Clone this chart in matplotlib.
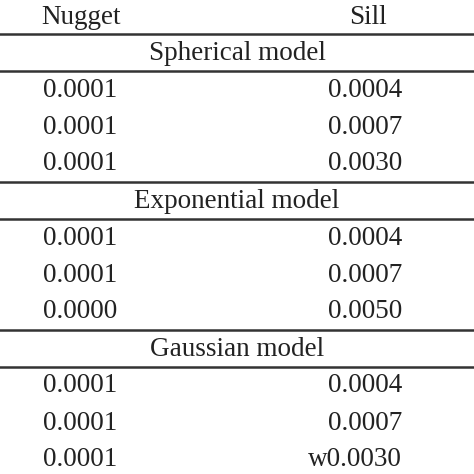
import matplotlib
matplotlib.use("Agg")
import matplotlib.pyplot as plt

headers = ["Nugget", "Sill"]
models = ["Spherical model", "Exponential model", "Gaussian model"]
nugget = [["0.0001", "0.0001", "0.0001"], ["0.0001", "0.0001", "0.0000"], ["0.0001", "0.0001", "0.0001"]]
sill = [["0.0004", "0.0007", "0.0030"], ["0.0004", "0.0007", "0.0050"], ["0.0004", "0.0007", "w0.0030"]]

fig = plt.figure(figsize=(4.74, 4.74), dpi=100)
ax = fig.add_axes([0, 0, 1, 1])
ax.set_xlim(0, 474); ax.set_ylim(474, 0); ax.axis("off")
fs = 19.5
kw = dict(fontsize=fs, family="Liberation Serif", color="#222222", va="center")
ax.text(81, 17, headers[0], ha="center", **kw)
ax.text(368, 17, headers[1], ha="center", **kw)
ax.axhline(34, color="#333333", lw=1.8)
y = 34
for m, nv, sv in zip(models, nugget, sill):
    ax.text(237, y + 19, m, ha="center", **kw)
    ax.axhline(y + 37, color="#333333", lw=1.8)
    for i, (n, s) in enumerate(zip(nv, sv)):
        yy = y + 56 + i * 37
        ax.text(80, yy, n, ha="center", **kw)
        ax.text(402, yy, s, ha="right", **kw)
    y += 148
    if m != models[-1]:
        ax.axhline(y, color="#333333", lw=1.8)
fig.savefig("out.png", dpi=100)
